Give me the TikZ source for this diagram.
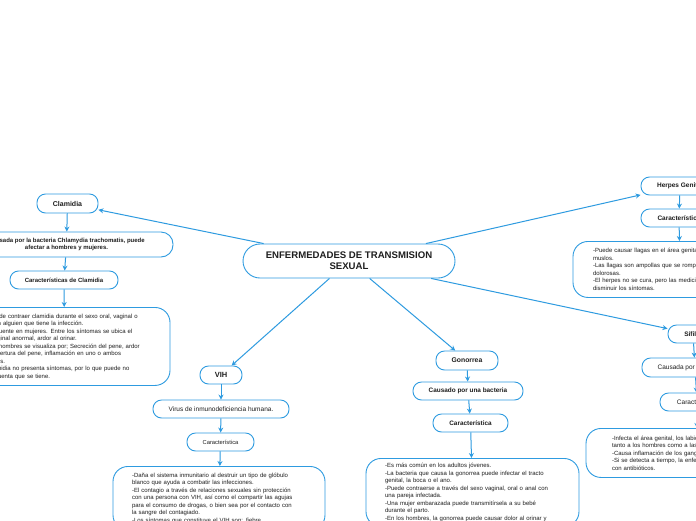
\documentclass[tikz,border=0pt]{standalone}
\usepackage{fontspec}
\setmainfont{Liberation Sans}
\usetikzlibrary{arrows.meta}
\definecolor{mmblue}{HTML}{2E9BE0}
\definecolor{mmtext}{HTML}{1E1E1E}
\begin{document}
\begin{tikzpicture}[x=1pt,y=-1pt,
  box/.style={draw=mmblue,line width=0.9pt,fill=white,text=mmtext,inner sep=0pt,align=center},
  pill/.style={box,rounded corners=8.5pt,minimum height=18pt},
  detail/.style={box,rounded corners=15pt,anchor=north,align=left,inner ysep=6pt,
    font=\fontsize{6}{7.5}\selectfont},
  fb/.style={font=\fontsize{#1}{7.5}\selectfont\bfseries},
  fr/.style={font=\fontsize{#1}{7.5}\selectfont},
  conn/.style={draw=mmblue,line width=1pt,-{Stealth[length=5pt,width=5pt]}}
]
\useasboundingbox (0,0) rectangle (696,520);
\fill[white] (0,0) rectangle (696,520);

% central node
\node[box,rounded corners=17pt,minimum width=212pt,minimum height=34pt,
  font=\fontsize{9.6}{11}\selectfont\bfseries] (main) at (349,261) {ENFERMEDADES DE TRANSMISION\\SEXUAL};

% Clamidia branch
\node[pill,fb=7,minimum width=61pt,minimum height=19pt] (clam) at (67.5,203.5) {Clamidia};
\node[box,rounded corners=12pt,minimum width=213pt,minimum height=25pt,
  font=\fontsize{6}{7.3}\selectfont\bfseries] (chl) at (66.5,244.5)
  {Causada por la bacteria Chlamydia trachomatis, puede\\afectar a hombres y mujeres.};
\node[pill,fb=6,minimum width=108pt] (carcl) at (64,280) {Características de Clamidia};
\node[detail,text width=173pt,inner xsep=19pt,minimum height=78pt] (detcl) at (64.5,307) {%
-Se puede contraer clamidia durante el sexo oral, vaginal o\\
anal con alguien que tiene la infección.\\
-Es frecuente en mujeres. Entre los síntomas se ubica el\\
flujo vaginal anormal, ardor al orinar.\\
-En los hombres se visualiza por; Secreción del pene, ardor\\
en la abertura del pene, inflamación en uno o ambos\\
testículos.\\
-La clamidia no presenta síntomas, por lo que puede no\\
darse cuenta que se tiene.};

% VIH branch
\node[pill,fb=7.5,minimum width=42pt] (vih) at (221,375) {VIH};
\node[pill,fr=6.5,minimum width=136pt] (virus) at (221,409) {Virus de inmunodeficiencia humana.};
\node[pill,fr=5.8,minimum width=67pt] (carvih) at (220.5,442) {Característica};
\node[detail,text width=174pt,inner xsep=19pt,inner ysep=6.5pt] (detvih) at (219,466) {%
-Daña el sistema inmunitario al destruir un tipo de glóbulo\\
blanco que ayuda a combatir las infecciones.\\
-El contagio a través de relaciones sexuales sin protección\\
con una persona con VIH, así como el compartir las agujas\\
para el consumo de drogas, o bien sea por el contacto con\\
la sangre del contagiado.\\
-Los síntomas que constituye el VIH son: fiebre,};

% Gonorrea branch
\node[pill,fb=6.8,minimum width=62pt,minimum height=19pt] (gon) at (467,360.5) {Gonorrea};
\node[pill,fb=6.4,minimum width=110pt] (causgon) at (468,391) {Causado por una bacteria};
\node[pill,fb=6.4,minimum width=75pt] (cargon) at (470.5,423) {Característica};
\node[detail,text width=175pt,inner xsep=19pt,inner ysep=5pt] (detgon) at (472.5,458) {%
-Es más común en los adultos jóvenes.\\
-La bacteria que causa la gonorrea puede infectar el tracto\\
genital, la boca o el ano.\\
-Puede contraerse a través del sexo vaginal, oral o anal con\\
una pareja infectada.\\
-Una mujer embarazada puede transmitírsela a su bebé\\
durante el parto.\\
-En los hombres, la gonorrea puede causar dolor al orinar y};

% Herpes branch
\node[pill,fb=6.5,minimum width=78pt] (herp) at (680,186) {Herpes Genital};
\node[pill,fb=6.5,minimum width=76pt] (carherp) at (679,218) {Característica};
\node[detail,text width=174pt,inner xsep=20pt,minimum height=56pt] (detherp) at (680,241) {%
-Puede causar llagas en el área genital, ano, glúteos y\\
muslos.\\
-Las llagas son ampollas que se rompen y pueden ser\\
dolorosas.\\
-El herpes no se cura, pero las medicinas pueden\\
disminuir los síntomas.};

% Sifilis branch
\node[pill,fb=6.5,minimum width=50pt] (sif) at (693,334) {Sífilis};
\node[pill,fr=6.5,minimum width=106pt,minimum height=19pt] (caussif) at (695,367.5) {Causada por una bacteria};
\node[pill,fr=6.5,minimum width=74pt] (carsif) at (697,402) {Característica};
\node[detail,text width=170pt,inner xsep=26pt,minimum height=49pt] (detsif) at (697,428) {%
-Infecta el área genital, los labios, la boca o el ano. Afecta\\
tanto a los hombres como a las mujeres.\\
-Causa inflamación de los ganglios linfáticos.\\
-Si se detecta a tiempo, la enfermedad se puede curar\\
con antibióticos.};

% connectors from the centre
\draw[conn] (main) -- (clam);
\draw[conn] (main) -- (herp);
\draw[conn] (main) -- (sif);
\draw[conn] (main) -- (vih);
\draw[conn] (main) -- (gon);

% chains
\draw[conn] (clam) -- (chl);
\draw[conn] (chl) -- (carcl);
\draw[conn] (carcl) -- (detcl);
\draw[conn] (vih) -- (virus);
\draw[conn] (virus) -- (carvih);
\draw[conn] (carvih) -- (detvih);
\draw[conn] (gon) -- (causgon);
\draw[conn] (causgon) -- (cargon);
\draw[conn] (cargon) -- (detgon);
\draw[conn] (herp) -- (carherp);
\draw[conn] (carherp) -- (detherp);
\draw[conn] (sif) -- (caussif);
\draw[conn] (caussif) -- (carsif);
\draw[conn] (carsif) -- (detsif);
\end{tikzpicture}
\end{document}
